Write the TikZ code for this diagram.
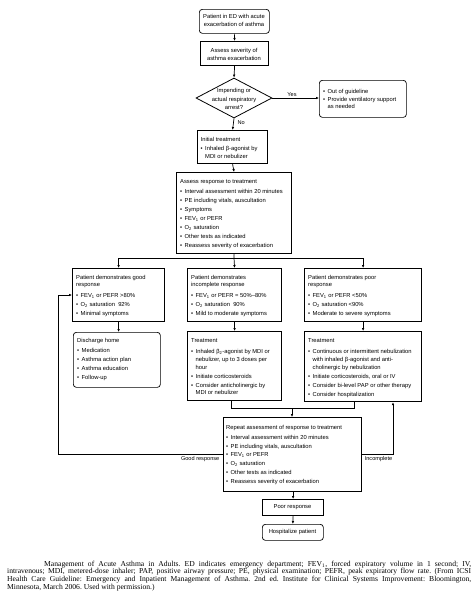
\documentclass[tikz,border=0pt]{standalone}
\usepackage{fontspec}
\setmainfont{Liberation Serif}
\newfontfamily\dsans{Liberation Sans}
\usetikzlibrary{arrows.meta,shapes.geometric}
\frenchspacing
\newcommand{\bu}{\makebox[4.5pt][l]{•}}
\newcommand{\hi}{\hspace*{4.5pt}}
\newcommand{\mkbox}[6]{\node[#1, minimum width={#4-#2}, minimum height={#5-#3}] (#6) at (#2,#3) {};}
\tikzset{
 sq/.style={draw, line width=1.2pt, inner sep=0pt, anchor=north west},
 rbox/.style={draw, line width=0.7pt, rounded corners=3pt, inner sep=0pt, anchor=north west},
 txt/.style={inner sep=0pt, anchor=north west, align=left, font=\dsans\fontsize{5.8}{7.7}\selectfont},
 ctxt/.style={inner sep=0pt, align=center, font=\dsans\fontsize{5.8}{7.7}\selectfont},
 conn/.style={line width=0.7pt},
 arr/.style={conn, -{Latex[length=3pt,width=2.6pt]}},
 lbl/.style={inner sep=0pt, font=\dsans\fontsize{5.6}{6.5}\selectfont},
}
\begin{document}
\begin{tikzpicture}[x=1pt,y=-1pt]
\useasboundingbox (0,0) rectangle (474,598);
% boxes
\mkbox{rbox}{199}{9}{269}{33}{b1}
\node[ctxt] (b1t) at (234,20.5) {Patient in ED with acute\\exacerbation of asthma};
\mkbox{sq}{200}{41}{268}{65}{b2}
\node[ctxt] (b2t) at (234,54.5) {Assess severity of\\asthma exacerbation};
\node[draw, diamond, line width=0.8pt, minimum width=76pt, minimum height=40pt, inner sep=0pt] (dia) at (234,98) {};
\node[ctxt, font=\dsans\fontsize{5.8}{8.2}\selectfont] (diat) at (234,99) {Impending or\\actual respiratory\\arrest?};
\mkbox{rbox}{319}{80}{406}{117}{out}
\node[txt, font=\dsans\fontsize{5.8}{7.5}\selectfont] (outt) at (323,88.7) {\bu Out of guideline\\[0.5pt]\bu Provide ventilatory support\\\hi as needed};
\mkbox{sq}{197}{130}{267}{163}{init}
\node[txt] (initt) at (200.5,136.7) {Initial treatment\\[1.5pt]\bu Inhaled β-agonist by\\\hi MDI or nebulizer};
\mkbox{sq}{176}{172}{291}{253}{ass}
\node[txt] (asst) at (180,179.7) {Assess response to treatment\\[2.3pt]\bu Interval assessment within 20 minutes\\[1.2pt]\bu PE including vitals, auscultation\\[1.2pt]\bu Symptoms\\[1.2pt]\bu FEV\textsubscript{1} or PEFR\\[1.2pt]\bu O\textsubscript{2} saturation\\[1.2pt]\bu Other tests as indicated\\[1.2pt]\bu Reassess severity of exacerbation};
\mkbox{sq}{72}{268}{164}{321}{lft}
\node[txt] (lftt) at (76,274.7) {Patient demonstrates good\\response\\[3pt]\bu FEV\textsubscript{1} or PEFR >80\%\\[1.3pt]\bu O\textsubscript{2} saturation \ 92\%\\[1.3pt]\bu Minimal symptoms};
\mkbox{sq}{187}{268}{281}{321}{mid}
\node[txt] (midt) at (191,274.7) {Patient demonstrates\\incomplete response\\[3pt]\bu FEV\textsubscript{1} or PEFR = 50\%–80\%\\[1.3pt]\bu O\textsubscript{2} saturation \ 90\%\\[1.3pt]\bu Mild to moderate symptoms};
\mkbox{sq}{304}{268}{421}{321}{rgt}
\node[txt] (rgtt) at (308,274.7) {Patient demonstrates poor\\response\\[3pt]\bu FEV\textsubscript{1} or PEFR <50\%\\[1.3pt]\bu O\textsubscript{2} saturation <90\%\\[1.3pt]\bu Moderate to severe symptoms};
\mkbox{rbox}{73}{332}{160}{387}{dis}
\node[txt] (dist) at (77,337.7) {Discharge home\\[2.3pt]\bu Medication\\[1.3pt]\bu Asthma action plan\\[1.3pt]\bu Asthma education\\[1.3pt]\bu Follow-up};
\mkbox{sq}{187}{331}{281}{400}{mtr}
\node[txt] (mtrt) at (191,338.7) {Treatment\\[3.3pt]\bu Inhaled β\textsubscript{2}-agonist by MDI or\\\hi nebulizer, up to 3 doses per\\\hi hour\\[1.3pt]\bu Initiate corticosteroids\\[1.3pt]\bu Consider anticholinergic by\\\hi MDI or nebulizer};
\mkbox{sq}{304}{331}{421}{401}{rtr}
\node[txt] (rtrt) at (308,338.7) {Treatment\\[3.3pt]\bu Continuous or intermittent nebulization\\\hi with inhaled β-agonist and anti-\\\hi cholinergic by nebulization\\[1.3pt]\bu Initiate corticosteroids, oral or IV\\[1.3pt]\bu Consider bi-level PAP or other therapy\\[1.3pt]\bu Consider hospitalization};
\mkbox{sq}{223}{417}{361}{491}{rep}
\node[txt] (rept) at (226,424.7) {Repeat assessment of response to treatment\\[2.3pt]\bu Interval assessment within 20 minutes\\[1.2pt]\bu PE including vitals, auscultation\\[1.2pt]\bu FEV\textsubscript{1} or PEFR\\[1.2pt]\bu O\textsubscript{2} saturation\\[1.2pt]\bu Other tests as indicated\\[1.2pt]\bu Reassess severity of exacerbation};
\mkbox{sq}{262}{499}{323}{515}{poor}
\node[ctxt] (poort) at (292.5,507.3) {Poor response};
\mkbox{rbox}{262}{524}{323}{540}{hos}
\node[ctxt] (host) at (292.5,532.3) {Hospitalize patient};
% connectors
\draw[arr] (b1.south) -- (b2.north);
\draw[arr] (b2.south) -- (dia.north);
\draw[arr] (dia.east) -- (out.west |- dia.east);
\node[lbl] (yes) at (292,95) {Yes};
\draw[arr] (dia.south) -- (init.north);
\node[lbl, anchor=west] (no) at (237.5,123) {No};
\draw[arr] (init.south) -- (ass.north);
\coordinate (br) at (234,258);
\draw[conn] (ass.south) -- (br);
\draw[arr] (br) -| (lft.north);
\draw[arr] (br) -| (rgt.north);
\draw[arr] (br) -- (mid.north);
\draw[arr] (lft.south) -- (lft.south |- dis.north);
\draw[arr] (mid.south) -- (mtr.north);
\draw[arr] (rgt.south) -- (rtr.north);
\coordinate (mL) at (231,408);
\coordinate (mR) at (354,408);
\coordinate (mg) at (292,408);
\draw[conn] (mtr.south -| mL) -- (mL) -- (mR) -- (mR |- rtr.south);
\draw[arr] (mg) -- (mg |- rep.north);
\coordinate (g1) at (58,454);
\coordinate (g2) at (58,295);
\draw[arr] (rep.west |- g1) -- (g1) -- (g2) -- (lft.west |- g2);
\node[lbl, anchor=east] (gr) at (219.5,459.5) {Good response};
\coordinate (i1) at (393,454);
\draw[arr] (rep.east |- i1) -- (i1) -- (i1 |- rtr.south);
\node[lbl] (inc) at (378.5,459.5) {Incomplete};
\draw[arr] (rep.south -| poor.north) -- (poor.north);
\draw[arr] (poor.south) -- (hos.north);
% caption
\node[anchor=north west, inner sep=0pt, text width=464pt, align=justify, font=\fontsize{7.6}{7.8}\selectfont] (cap) at (7,560.5) {\hspace*{37pt}Management of Acute Asthma in Adults. ED indicates emergency department; FEV\textsubscript{1}, forced expiratory volume in 1 second; IV,\linebreak intravenous; MDI, metered-dose inhaler; PAP, positive airway pressure; PE, physical examination; PEFR, peak expiratory flow rate. (From ICSI\linebreak Health Care Guideline: Emergency and Inpatient Management of Asthma. 2nd ed. Institute for Clinical Systems Improvement: Bloomington,\linebreak Minnesota, March 2006. Used with permission.)};
\end{tikzpicture}
\end{document}
